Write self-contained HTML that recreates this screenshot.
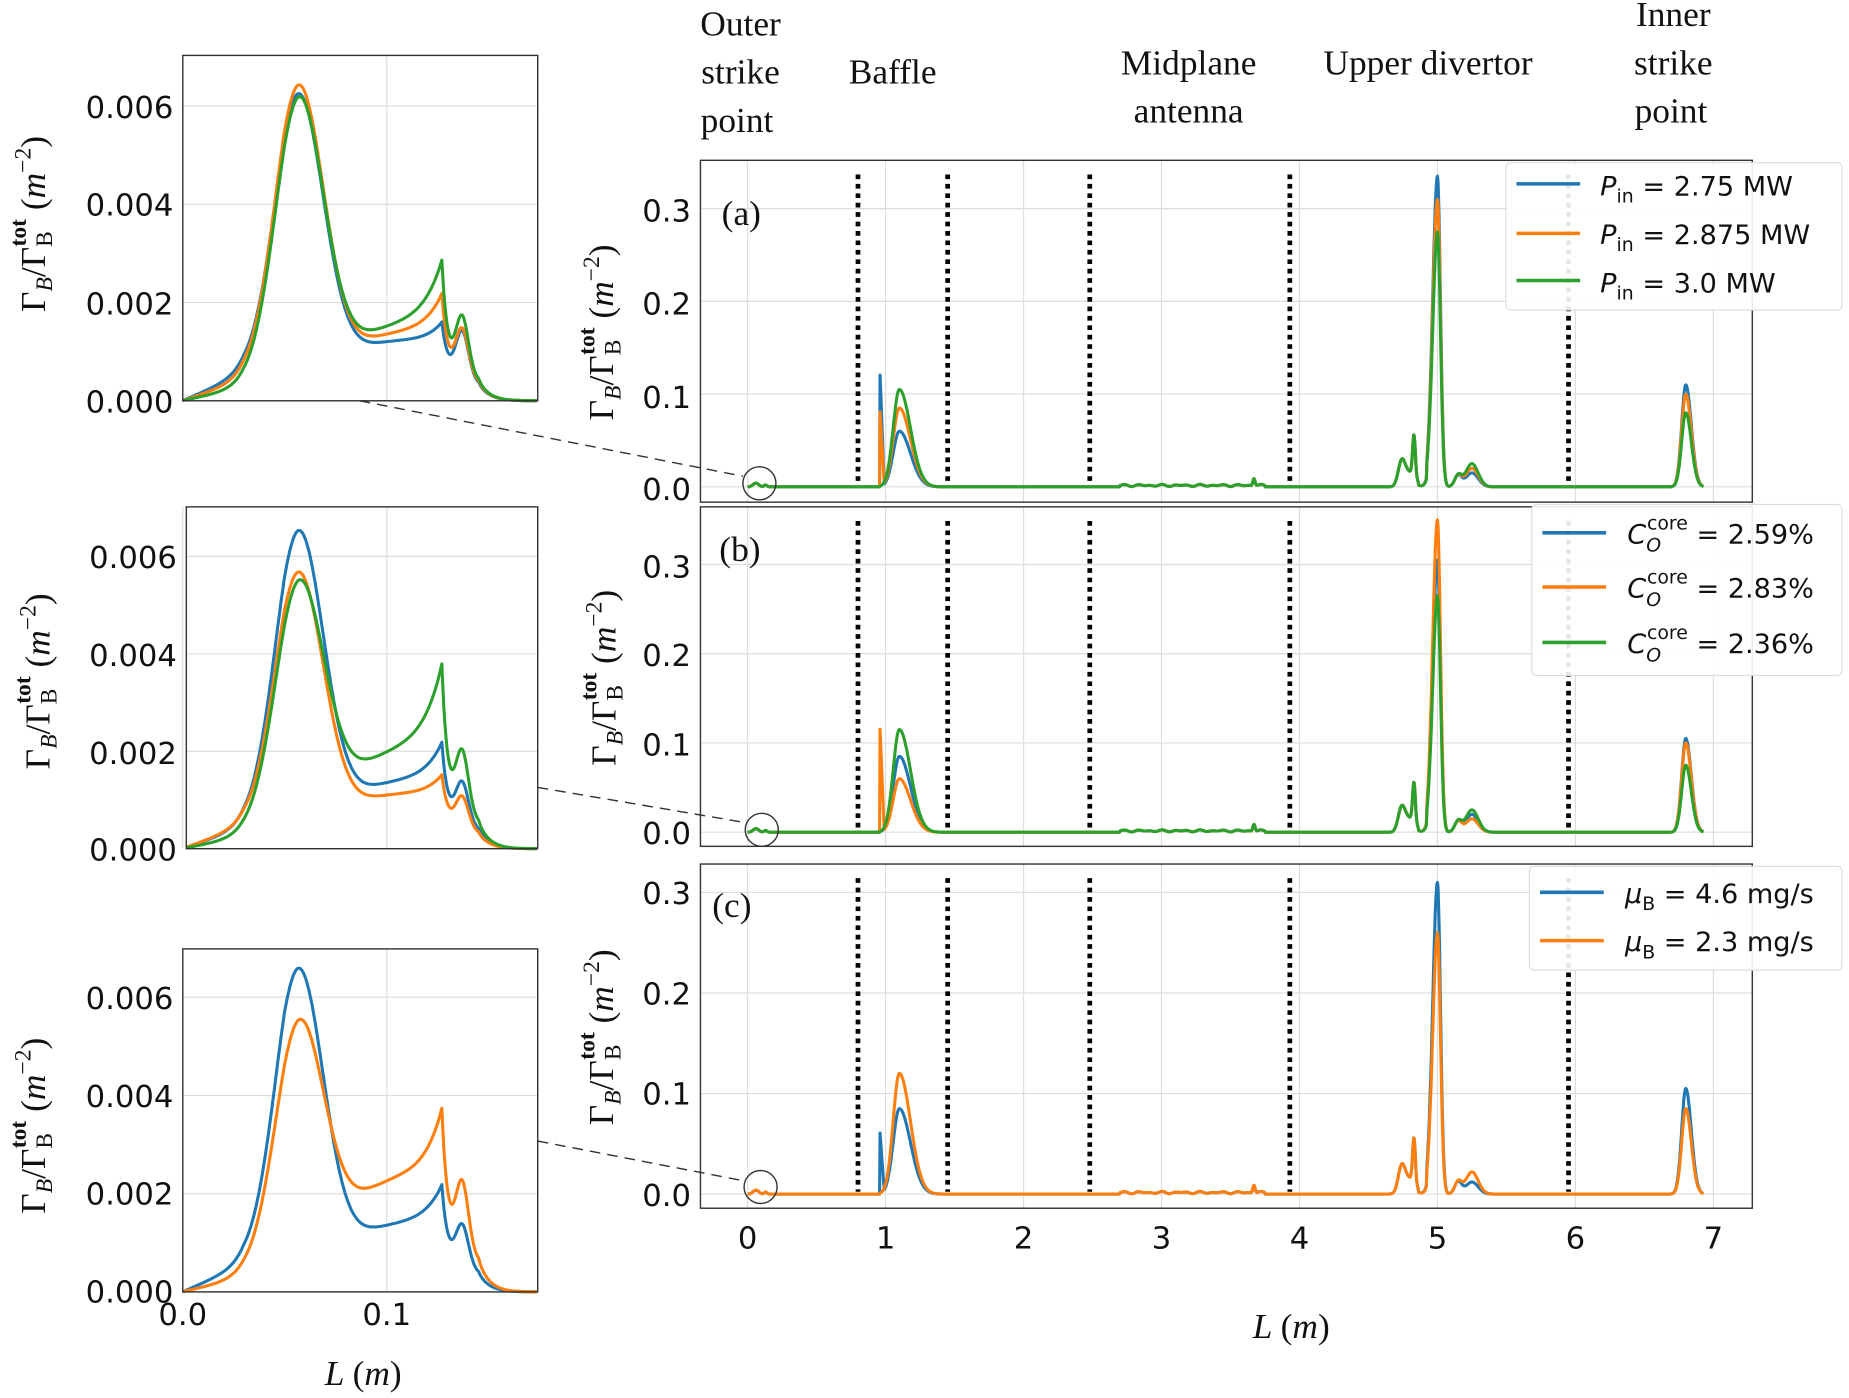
<!DOCTYPE html>
<html><head><meta charset="utf-8"><style>
html,body{margin:0;padding:0;background:#fff;}
svg{display:block;}
.t{font-family:"DejaVu Sans","Liberation Sans",sans-serif;font-size:26px;fill:#111;}
.s{font-family:"Liberation Serif",serif;font-size:30px;fill:#111;}
.lg{font-family:"DejaVu Sans","Liberation Sans",sans-serif;font-size:23px;fill:#111;}
</style></head><body>
<svg id="sv" width="1849" height="1398" viewBox="0 0 1568 1186" preserveAspectRatio="none" xmlns="http://www.w3.org/2000/svg">
<g id="grid"></g>
<g id="curves"></g>
<g fill="none" stroke="#333" stroke-width="1.2">
<rect x="594" y="136" width="892" height="290"/>
<rect x="594" y="430" width="892" height="288"/>
<rect x="594" y="733" width="892" height="292"/>
<rect x="155" y="47" width="301" height="293"/>
<rect x="158" y="430" width="298" height="290"/>
<rect x="155" y="805" width="301" height="291"/>
</g>
<g fill="none" stroke="#333" stroke-width="1.2">
<line x1="305" y1="340" x2="630" y2="404" stroke-dasharray="9,6"/>
<line x1="456" y1="668" x2="633" y2="698" stroke-dasharray="9,6"/>
<line x1="456" y1="968" x2="632" y2="1002" stroke-dasharray="9,6"/>
<circle cx="644" cy="410" r="14"/>
<circle cx="646" cy="704" r="14"/>
<circle cx="645" cy="1007" r="14"/>
</g>
<g>
<rect x="1277" y="138" width="285" height="125" rx="4" fill="#fff" fill-opacity="0.9" stroke="#ddd"/>
<line x1="1286" y1="156" x2="1340" y2="156" stroke="#1f77b4" stroke-width="3"/>
<line x1="1286" y1="198" x2="1340" y2="198" stroke="#ff7f0e" stroke-width="3"/>
<line x1="1286" y1="238" x2="1340" y2="238" stroke="#2ca02c" stroke-width="3"/>
<text class="lg" x="1357" y="166"><tspan font-style="italic">P</tspan><tspan font-size="16" dy="6">in</tspan><tspan dy="-6"> = 2.75 MW</tspan></text>
<text class="lg" x="1357" y="207"><tspan font-style="italic">P</tspan><tspan font-size="16" dy="6">in</tspan><tspan dy="-6"> = 2.875 MW</tspan></text>
<text class="lg" x="1357" y="248"><tspan font-style="italic">P</tspan><tspan font-size="16" dy="6">in</tspan><tspan dy="-6"> = 3.0 MW</tspan></text>

<rect x="1299" y="428" width="263" height="145" rx="4" fill="#fff" fill-opacity="0.9" stroke="#ddd"/>
<line x1="1308" y1="452" x2="1362" y2="452" stroke="#1f77b4" stroke-width="3"/>
<line x1="1308" y1="498" x2="1362" y2="498" stroke="#ff7f0e" stroke-width="3"/>
<line x1="1308" y1="545" x2="1362" y2="545" stroke="#2ca02c" stroke-width="3"/>
<text class="lg" x="1380" y="461"><tspan font-style="italic">C</tspan><tspan font-size="16" font-style="italic" dy="7">O</tspan><tspan font-size="16" dx="-12" dy="-19">core</tspan><tspan dy="12"> = 2.59%</tspan></text>
<text class="lg" x="1380" y="507"><tspan font-style="italic">C</tspan><tspan font-size="16" font-style="italic" dy="7">O</tspan><tspan font-size="16" dx="-12" dy="-19">core</tspan><tspan dy="12"> = 2.83%</tspan></text>
<text class="lg" x="1380" y="554"><tspan font-style="italic">C</tspan><tspan font-size="16" font-style="italic" dy="7">O</tspan><tspan font-size="16" dx="-12" dy="-19">core</tspan><tspan dy="12"> = 2.36%</tspan></text>

<rect x="1297" y="735" width="265" height="88" rx="4" fill="#fff" fill-opacity="0.9" stroke="#ddd"/>
<line x1="1306" y1="757" x2="1360" y2="757" stroke="#1f77b4" stroke-width="3"/>
<line x1="1306" y1="798" x2="1360" y2="798" stroke="#ff7f0e" stroke-width="3"/>
<text class="lg" x="1378" y="766"><tspan font-style="italic">μ</tspan><tspan font-size="16" dy="6">B</tspan><tspan dy="-6"> = 4.6 mg/s</tspan></text>
<text class="lg" x="1378" y="807"><tspan font-style="italic">μ</tspan><tspan font-size="16" dy="6">B</tspan><tspan dy="-6"> = 2.3 mg/s</tspan></text>
</g>
<text class="s" x="612" y="191" font-size="38">(a)</text>
<text class="s" x="610" y="476" font-size="38">(b)</text>
<text class="s" x="604" y="778" font-size="38">(c)</text>
<g class="t" text-anchor="end" font-size="27">
<text x="586" y="188">0.3</text><text x="586" y="267">0.2</text><text x="586" y="346">0.1</text><text x="586" y="424">0.0</text>
<text x="586" y="490">0.3</text><text x="586" y="565">0.2</text><text x="586" y="641">0.1</text><text x="586" y="716">0.0</text>
<text x="586" y="767">0.3</text><text x="586" y="852">0.2</text><text x="586" y="937">0.1</text><text x="586" y="1023">0.0</text>
</g>
<g class="t" text-anchor="middle" font-size="28">
<text x="634" y="1059">0</text><text x="751" y="1059">1</text><text x="868" y="1059">2</text><text x="985" y="1059">3</text><text x="1102" y="1059">4</text><text x="1219" y="1059">5</text><text x="1336" y="1059">6</text><text x="1453" y="1059">7</text>
</g>
<g class="t" text-anchor="end" font-size="27">
<text x="147" y="100">0.006</text><text x="147" y="183">0.004</text><text x="147" y="267">0.002</text><text x="147" y="350">0.000</text>
<text x="150" y="482">0.006</text><text x="150" y="565">0.004</text><text x="150" y="648">0.002</text><text x="150" y="730">0.000</text>
<text x="147" y="856">0.006</text><text x="147" y="939">0.004</text><text x="147" y="1022">0.002</text><text x="147" y="1105">0.000</text>
</g>
<g class="t" text-anchor="middle" font-size="27">
<text x="155" y="1124">0.0</text><text x="328" y="1124">0.1</text>
</g>
<text class="s" x="1095" y="1135" text-anchor="middle" font-size="42" font-style="italic">L <tspan font-style="normal">(</tspan>m<tspan font-style="normal">)</tspan></text>
<text class="s" x="308" y="1175" text-anchor="middle" font-size="36" font-style="italic">L <tspan font-style="normal">(</tspan>m<tspan font-style="normal">)</tspan></text>
<g class="s" font-size="30">
<text transform="translate(520,282) rotate(-90)" text-anchor="middle">Γ<tspan font-style="italic" font-size="20" dy="6">B</tspan><tspan dy="-6">/Γ</tspan><tspan font-size="20" dy="6">B</tspan><tspan font-size="20" dx="-13" dy="-22" font-weight="bold">tot</tspan><tspan dy="16"> (</tspan><tspan font-style="italic">m</tspan><tspan font-size="20" dy="-12">−2</tspan><tspan dy="12">)</tspan></text>
<text transform="translate(522,575) rotate(-90)" text-anchor="middle">Γ<tspan font-style="italic" font-size="20" dy="6">B</tspan><tspan dy="-6">/Γ</tspan><tspan font-size="20" dy="6">B</tspan><tspan font-size="20" dx="-13" dy="-22" font-weight="bold">tot</tspan><tspan dy="16"> (</tspan><tspan font-style="italic">m</tspan><tspan font-size="20" dy="-12">−2</tspan><tspan dy="12">)</tspan></text>
<text transform="translate(520,880) rotate(-90)" text-anchor="middle">Γ<tspan font-style="italic" font-size="20" dy="6">B</tspan><tspan dy="-6">/Γ</tspan><tspan font-size="20" dy="6">B</tspan><tspan font-size="20" dx="-13" dy="-22" font-weight="bold">tot</tspan><tspan dy="16"> (</tspan><tspan font-style="italic">m</tspan><tspan font-size="20" dy="-12">−2</tspan><tspan dy="12">)</tspan></text>
<text transform="translate(38,190) rotate(-90)" text-anchor="middle">Γ<tspan font-style="italic" font-size="20" dy="6">B</tspan><tspan dy="-6">/Γ</tspan><tspan font-size="20" dy="6">B</tspan><tspan font-size="20" dx="-13" dy="-22" font-weight="bold">tot</tspan><tspan dy="16"> (</tspan><tspan font-style="italic">m</tspan><tspan font-size="20" dy="-12">−2</tspan><tspan dy="12">)</tspan></text>
<text transform="translate(42,578) rotate(-90)" text-anchor="middle">Γ<tspan font-style="italic" font-size="20" dy="6">B</tspan><tspan dy="-6">/Γ</tspan><tspan font-size="20" dy="6">B</tspan><tspan font-size="20" dx="-13" dy="-22" font-weight="bold">tot</tspan><tspan dy="16"> (</tspan><tspan font-style="italic">m</tspan><tspan font-size="20" dy="-12">−2</tspan><tspan dy="12">)</tspan></text>
<text transform="translate(38,955) rotate(-90)" text-anchor="middle">Γ<tspan font-style="italic" font-size="20" dy="6">B</tspan><tspan dy="-6">/Γ</tspan><tspan font-size="20" dy="6">B</tspan><tspan font-size="20" dx="-13" dy="-22" font-weight="bold">tot</tspan><tspan dy="16"> (</tspan><tspan font-style="italic">m</tspan><tspan font-size="20" dy="-12">−2</tspan><tspan dy="12">)</tspan></text>
</g>
<g class="s" text-anchor="middle" font-size="31">
<text x="628" y="30">Outer</text><text x="628" y="71">strike</text><text x="625" y="112">point</text>
<text x="757" y="71">Baffle</text>
<text x="1008" y="63">Midplane</text><text x="1008" y="104">antenna</text>
<text x="1211" y="63">Upper divertor</text>
<text x="1419" y="22">Inner</text><text x="1419" y="63">strike</text><text x="1417" y="104">point</text>
</g>
</svg>
<script>
(function(){
var NS="http://www.w3.org/2000/svg";
var G=document.getElementById('grid'),C=document.getElementById('curves');
function el(p,tag,a){var e=document.createElementNS(NS,tag);for(var k in a)e.setAttribute(k,a[k]);p.appendChild(e);return e;}
var X0=634,XS=117;
var panels=[{t:136,b:426,y0:413,ys:786.7},{t:430,b:718,y0:706,ys:757},{t:733,b:1025,y0:1013,ys:853}];
var insets=[{l:155,r:456,t:47,b:340,y0:340,ys:41667},{l:158,r:456,t:430,b:720,y0:720,ys:41333},{l:155,r:456,t:805,b:1096,y0:1096,ys:41667}];
panels.forEach(function(p){
  for(var i=0;i<=7;i++){var x=X0+XS*i;el(G,'line',{x1:x,x2:x,y1:p.t,y2:p.b,stroke:'#ddd','stroke-width':1});}
  for(var j=0;j<=3;j++){var y=p.y0-p.ys*0.1*j;el(G,'line',{x1:594,x2:1486,y1:y,y2:y,stroke:'#ddd','stroke-width':1});}
  [0.8,1.45,2.48,3.93,5.95].forEach(function(v){var x=X0+XS*v;el(G,'line',{x1:x,x2:x,y1:p.t+12,y2:p.b-14,stroke:'#000','stroke-width':4,'stroke-dasharray':'4,4'});});
});
insets.forEach(function(p){
  [0,0.1].forEach(function(v){var x=155+1730*v;el(G,'line',{x1:x,x2:x,y1:p.t,y2:p.b,stroke:'#ddd','stroke-width':1});});
  for(var j=0;j<=3;j++){var y=p.y0-p.ys*0.002*j;el(G,'line',{x1:p.l,x2:p.r,y1:y,y2:y,stroke:'#ddd','stroke-width':1});}
});
function g(x,m,s){return Math.exp(-0.5*(x-m)*(x-m)/(s*s));}
function mainF(L,q){
  var y=0;
  if(L>0.96&&L<0.99)y+=q.sp*(1-(L-0.96)/0.03);
  var bb=L<1.1?g(L,1.1,0.045):g(L,1.1,0.08);
  if(L>0.96)y+=q.bu*bb;
  var pk=L<5.0?g(L,5.0,0.035):g(L,5.0,0.022);
  y+=q.pk*pk;
  y+=0.025*g(L,4.74,0.025)+0.045*g(L,4.83,0.01)+0.015*g(L,4.8,0.04);
  if(L>4.86&&L<4.92)y*=0.4;
  y+=q.s2*g(L,5.25,0.045)+0.012*g(L,5.15,0.025);
  y+=q.in*(L<6.8?g(L,6.8,0.03):g(L,6.8,0.04));
  if(L>2.7&&L<3.75)y+=0.0015+0.0012*Math.sin(L*57)*Math.sin(L*13);
  y+=0.008*g(L,3.67,0.008);
  if(L<0.18)y+=0.004*g(L,0.06,0.02)+0.002*g(L,0.13,0.01);
  return y;
}
function insF(L,q){
  var y=q.a*(L<0.057?g(L,0.057,0.0115):g(L,0.057,0.012));
  y+=q.v*g(L,0.1,0.03);
  if(L<0.127)y+=(q.bp-q.v*0.85)*Math.exp((L-0.127)/0.012);
  else y+=(q.bp-q.v*0.85)*Math.exp(-(L-0.127)/0.0025);
  y+=q.sp*g(L,0.137,0.003);
  y*=L>0.145?Math.exp(-(L-0.145)/0.007):1;
  y+=0.0004*q.st*Math.min(1,L/0.03)*(L<0.05?1:Math.exp(-(L-0.05)/0.01));
  return Math.max(0,y);
}
function draw(pts,col){el(C,'polyline',{points:pts.join(' '),fill:'none',stroke:col,'stroke-width':2.6,'stroke-linejoin':'round'});}
var B='#1f77b4',O='#ff7f0e',Gr='#2ca02c';
var mainS=[
 [[B,{sp:0.12,bu:0.06,pk:0.335,s2:0.015,in:0.11}],[O,{sp:0.08,bu:0.085,pk:0.31,s2:0.02,in:0.1}],[Gr,{sp:0.0,bu:0.105,pk:0.275,s2:0.025,in:0.08}]],
 [[B,{sp:0.0,bu:0.085,pk:0.305,s2:0.02,in:0.105}],[O,{sp:0.115,bu:0.06,pk:0.35,s2:0.015,in:0.1}],[Gr,{sp:0.0,bu:0.115,pk:0.265,s2:0.025,in:0.075}]],
 [[B,{sp:0.06,bu:0.085,pk:0.31,s2:0.012,in:0.105}],[O,{sp:0.0,bu:0.12,pk:0.26,s2:0.022,in:0.085}]]
];
var insS=[
 [[B,{a:0.0056,v:0.0011,bp:0.0018,sp:0.0009,st:1.3}],[O,{a:0.0058,v:0.0012,bp:0.0024,sp:0.0009,st:1}],[Gr,{a:0.0056,v:0.0013,bp:0.0031,sp:0.0011,st:0.6}]],
 [[B,{a:0.0059,v:0.0012,bp:0.0024,sp:0.0008,st:1}],[O,{a:0.0051,v:0.001,bp:0.0017,sp:0.0006,st:1.1}],[Gr,{a:0.0048,v:0.0017,bp:0.0041,sp:0.0012,st:0.5}]],
 [[B,{a:0.0059,v:0.0012,bp:0.0024,sp:0.0008,st:1.3}],[O,{a:0.0047,v:0.002,bp:0.0041,sp:0.0013,st:0.6}]]
];
mainS.forEach(function(ss,i){var p=panels[i];ss.forEach(function(s){var pts=[];
 for(var L=0;L<=6.93;L+=0.004){var y=mainF(L,s[1]);pts.push((X0+XS*L).toFixed(1)+','+(p.y0-p.ys*y).toFixed(1));}
 draw(pts,s[0]);});});
insS.forEach(function(ss,i){var p=insets[i];ss.forEach(function(s){var pts=[];
 for(var L=0;L<=0.174;L+=0.0005){var x=155+1730*L;if(x<p.l)continue;var y=insF(L,s[1]);pts.push(x.toFixed(1)+','+(p.y0-p.ys*y).toFixed(1));}
 draw(pts,s[0]);});});
})();
</script>
</body></html>
